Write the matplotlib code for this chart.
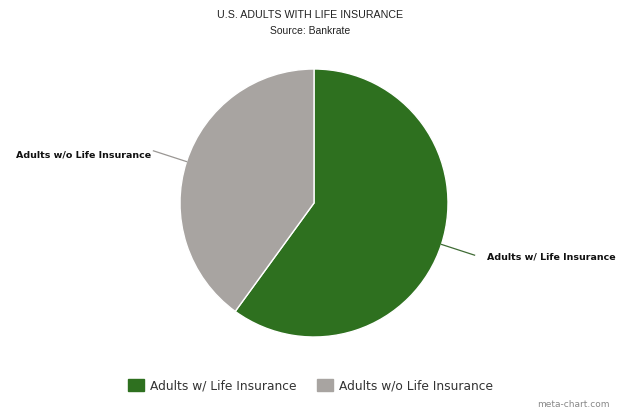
import numpy as np
import matplotlib
matplotlib.use('Agg')
import matplotlib.pyplot as plt
from matplotlib.patches import Rectangle

labels = ['Adults w/ Life Insurance', 'Adults w/o Life Insurance']
values = [60, 40]
colors = ['#2e701f', '#a8a4a1']
line_colors = ['#3f6b35', '#9a9794']

W, H = 621, 414
fig = plt.figure(figsize=(W / 100, H / 100), dpi=100)

# pie axes: centre (314, 204) px, radius 134 px
cx, cy, r = 314, 204, 134
ax = fig.add_axes([(cx - r) / W, (H - cy - r) / H, 2 * r / W, 2 * r / H])
wedges, _ = ax.pie(values, colors=colors, startangle=90, counterclock=False,
                   radius=1.0, wedgeprops=dict(edgecolor='white', linewidth=1.0))
ax.set_xlim(-1, 1)
ax.set_ylim(-1, 1)
ax.set_aspect('equal')
ax.axis('off')

# slice labels with connector lines along each wedge's mid angle
for w, lab, lc in zip(wedges, labels, line_colors):
    mid = np.deg2rad((w.theta1 + w.theta2) / 2)
    x, y = np.cos(mid), np.sin(mid)
    ax.plot([x, x * 1.26], [y, y * 1.26], color=lc, lw=0.9, clip_on=False)
    if x > 0:
        ha, off = 'left', (12 * 0.72, -1 * 0.72)
    else:
        ha, off = 'right', (-2 * 0.72, -3 * 0.72)
    ax.annotate(lab, xy=(x * 1.26, y * 1.26), xytext=off, textcoords='offset points',
                ha=ha, va='center', fontsize=6.8, fontweight='bold', color='#111111',
                family='DejaVu Sans', annotation_clip=False)

fig.text(0.5, 1 - 15 / H, 'U.S. ADULTS WITH LIFE INSURANCE', ha='center', va='center',
         fontsize=7.7, color='#222222', family='Liberation Sans')
fig.text(0.5, 1 - 31 / H, 'Source: Bankrate', ha='center', va='center',
         fontsize=7.5, color='#222222', family='Liberation Sans')

# legend
leg_x = [128, 317]
for lx, lab, c in zip(leg_x, labels, colors):
    fig.patches.append(Rectangle((lx / W, 1 - 392 / H), 16 / W, 12 / H,
                                 transform=fig.transFigure, color=c))
    fig.text((lx + 22) / W, 1 - 386 / H, lab, ha='left', va='center',
             fontsize=8.8, color='#333333', family='DejaVu Sans')

fig.text(610 / W, 1 - 405 / H, 'meta-chart.com', ha='right', va='center',
         fontsize=6.5, color='#888888', family='DejaVu Sans')

fig.savefig('out.png', dpi=100, facecolor='white')
